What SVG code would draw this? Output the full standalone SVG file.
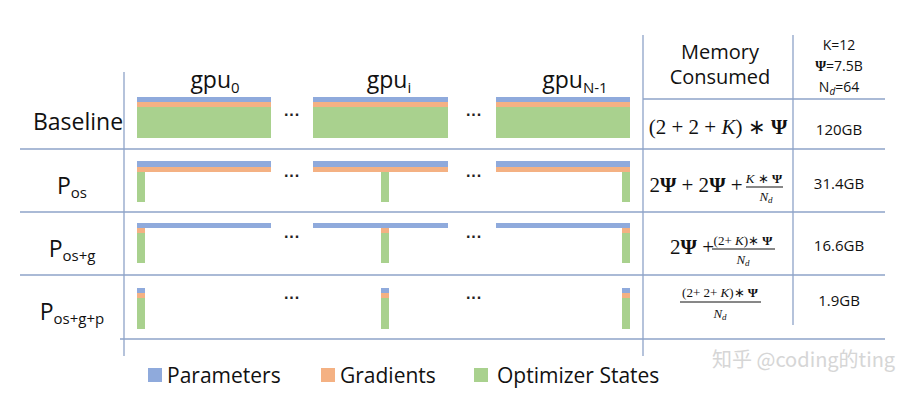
<svg xmlns="http://www.w3.org/2000/svg" width="906" height="400" viewBox="0 0 906 400">
<style>
.ln{stroke:#8ea3c8;stroke-width:1.3}
.b{fill:#8faadc}.o{fill:#f4b183}.g{fill:#a9d18e}
.t{font-family:"Open Sans","Liberation Sans",sans-serif;fill:#111}
.m{font-family:"Liberation Serif",serif;fill:#111}
.d{font-family:"Liberation Sans",sans-serif;font-size:16px;font-weight:bold;fill:#222}
</style>
<rect width="906" height="400" fill="#fff"/>
<g id="grid">
<line class="ln" x1="124" y1="72" x2="124" y2="356"/>
<line class="ln" x1="643" y1="35" x2="643" y2="356"/>
<line class="ln" x1="793" y1="35" x2="793" y2="325"/>
<line class="ln" x1="643" y1="99" x2="885" y2="99"/>
<line class="ln" x1="20" y1="149" x2="885" y2="149"/>
<line class="ln" x1="20" y1="212" x2="885" y2="212"/>
<line class="ln" x1="20" y1="275" x2="885" y2="275"/>
<line class="ln" x1="120" y1="339" x2="885" y2="339"/>
</g>
<g id="headers" class="t" font-size="23" text-anchor="middle">
<text x="215" y="88">gpu<tspan font-size="15" dy="5">0</tspan></text>
<text x="389" y="88">gpu<tspan font-size="15" dy="5">i</tspan></text>
<text x="575" y="88">gpu<tspan font-size="15" dy="5">N-1</tspan></text>
</g>
<g id="rowlabels" class="t" font-size="23" text-anchor="middle">
<text x="78" y="130">Baseline</text>
<text x="72" y="194">P<tspan font-size="15" dy="4">os</tspan></text>
<text x="72" y="257">P<tspan font-size="15" dy="4">os+g</tspan></text>
<text x="72" y="320">P<tspan font-size="15" dy="4">os+g+p</tspan></text>
</g>
<g id="baseline">
<rect class="b" x="137" y="97" width="134" height="5"/><rect class="o" x="137" y="102" width="134" height="5"/><rect class="g" x="137" y="107" width="134" height="31"/>
<rect class="b" x="313" y="97" width="135" height="5"/><rect class="o" x="313" y="102" width="135" height="5"/><rect class="g" x="313" y="107" width="135" height="31"/>
<rect class="b" x="496" y="97" width="134" height="5"/><rect class="o" x="496" y="102" width="134" height="5"/><rect class="g" x="496" y="107" width="134" height="31"/>
</g>
<g id="pos">
<rect class="b" x="137" y="161" width="134" height="6"/><rect class="o" x="137" y="167" width="134" height="5"/><rect class="g" x="137" y="172" width="8" height="30"/>
<rect class="b" x="313" y="161" width="135" height="6"/><rect class="o" x="313" y="167" width="135" height="5"/><rect class="g" x="381" y="172" width="8" height="30"/>
<rect class="b" x="496" y="161" width="134" height="6"/><rect class="o" x="496" y="167" width="134" height="5"/><rect class="g" x="622" y="172" width="8" height="30"/>
</g>
<g id="posg">
<rect class="b" x="137" y="223" width="134" height="5"/><rect class="o" x="137" y="228" width="8" height="5"/><rect class="g" x="137" y="233" width="8" height="30"/>
<rect class="b" x="313" y="223" width="135" height="5"/><rect class="o" x="381" y="228" width="8" height="5"/><rect class="g" x="381" y="233" width="8" height="30"/>
<rect class="b" x="496" y="223" width="134" height="5"/><rect class="o" x="622" y="228" width="8" height="5"/><rect class="g" x="622" y="233" width="8" height="30"/>
</g>
<g id="posgp">
<rect class="b" x="137" y="288" width="8" height="5"/><rect class="o" x="137" y="293" width="8" height="5"/><rect class="g" x="137" y="298" width="8" height="31"/>
<rect class="b" x="381" y="288" width="8" height="5"/><rect class="o" x="381" y="293" width="8" height="5"/><rect class="g" x="381" y="298" width="8" height="31"/>
<rect class="b" x="622" y="288" width="8" height="5"/><rect class="o" x="622" y="293" width="8" height="5"/><rect class="g" x="622" y="298" width="8" height="31"/>
</g>
<g id="dots" class="d" text-anchor="middle">
<text x="292" y="120">···</text><text x="474" y="120">···</text>
<text x="292" y="181">···</text><text x="474" y="181">···</text>
<text x="292" y="242">···</text><text x="474" y="242">···</text>
<text x="292" y="303">···</text><text x="474" y="303">···</text>
</g>
<g id="memhead" class="t" font-size="20" text-anchor="middle">
<text x="720" y="59">Memory</text><text x="720" y="84">Consumed</text>
</g>
<g id="params" class="t" font-size="14" text-anchor="middle">
<text x="839" y="50">K=12</text>
<text x="839" y="71"><tspan class="m" font-weight="bold">Ψ</tspan>=7.5B</text>
<text x="839" y="92">N<tspan font-size="10" dy="3" font-style="italic">d</tspan><tspan dy="-3">=64</tspan></text>
</g>
<g id="formulas" class="m" text-anchor="middle">
<text x="718" y="134" font-size="21">(2 + 2 + <tspan font-style="italic">K</tspan>) ∗ <tspan font-weight="bold">Ψ</tspan></text>
<text x="696" y="192" font-size="21">2<tspan font-weight="bold">Ψ</tspan> + 2<tspan font-weight="bold">Ψ</tspan> +</text>
<text x="764" y="183" font-size="13"><tspan font-style="italic">K</tspan> ∗ <tspan font-weight="bold">Ψ</tspan></text>
<line x1="746" y1="187" x2="783" y2="187" stroke="#111" stroke-width="1"/>
<text x="766" y="201" font-size="13" font-style="italic">N<tspan font-size="9" dy="2">d</tspan></text>
<text x="692" y="254" font-size="21">2<tspan font-weight="bold">Ψ</tspan> +</text>
<text x="743" y="245" font-size="13">(2+ <tspan font-style="italic">K</tspan>)∗ <tspan font-weight="bold">Ψ</tspan></text>
<line x1="712" y1="249" x2="775" y2="249" stroke="#111" stroke-width="1"/>
<text x="743" y="264" font-size="13" font-style="italic">N<tspan font-size="9" dy="2">d</tspan></text>
<text x="720" y="297" font-size="13">(2+ 2+ <tspan font-style="italic">K</tspan>)∗ <tspan font-weight="bold">Ψ</tspan></text>
<line x1="680" y1="302" x2="761" y2="302" stroke="#111" stroke-width="1"/>
<text x="720" y="318" font-size="13" font-style="italic">N<tspan font-size="9" dy="2">d</tspan></text>
</g>
<g id="values" class="t" font-size="15" text-anchor="middle">
<text x="839" y="135">120GB</text>
<text x="839" y="189">31.4GB</text>
<text x="839" y="251">16.6GB</text>
<text x="839" y="306">1.9GB</text>
</g>
<g id="legend" class="t" font-size="21">
<rect class="b" x="148" y="368" width="14" height="14"/><text x="167" y="383">Parameters</text>
<rect class="o" x="321" y="368" width="14" height="14"/><text x="340" y="383">Gradients</text>
<rect class="g" x="474" y="368" width="14" height="14"/><text x="497" y="383">Optimizer States</text>
</g>
<text x="712" y="367" font-family="Noto Sans CJK SC,sans-serif" font-size="20" fill="#ccc" opacity="0.8">知乎 @coding的ting</text>
</svg>
